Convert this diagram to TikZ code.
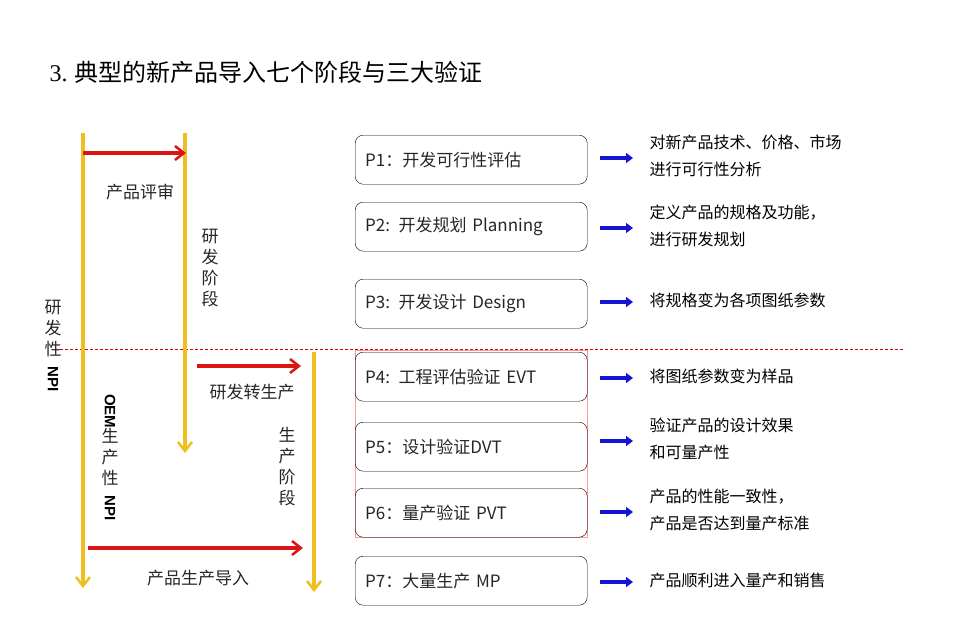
\documentclass[tikz,border=0pt]{standalone}
\usepackage{fontspec}
\setmainfont{Liberation Sans}
\newfontfamily\cjk{Noto Sans CJK SC}
\newfontfamily\tms{Liberation Serif}
\usetikzlibrary{arrows.meta}
\begin{document}
\begin{tikzpicture}[x=1pt,y=-1pt,
  yl/.style={line width=3.5pt,draw={rgb,255:red,240;green,190;blue,30},-{Straight Barb[length=9pt,width=14pt,line width=2.5pt]}},
  rd/.style={line width=3.5pt,draw={rgb,255:red,220;green,20;blue,20},-{Straight Barb[length=9pt,width=14pt,line width=2.5pt]}},
  bl/.style={line width=3.5pt,draw={rgb,255:red,20;green,20;blue,210},-{Triangle[length=7pt,width=10pt]}},
  pbox/.style={draw,rounded corners=8pt,minimum width=232pt,minimum height=49pt,anchor=north west,inner xsep=10pt,inner ysep=0pt,text width=212pt,align=left,font=\cjk\fontsize{17}{20}\selectfont,text=black!85},
  rt/.style={anchor=west,align=left,font=\cjk\fontsize{16}{27}\selectfont},
  lt/.style={font=\cjk\fontsize{17}{20}\selectfont,text=black!85,align=center},
  vt/.style={font=\cjk\fontsize{17}{21}\selectfont,text=black!85,align=center,anchor=north,inner sep=0pt},
  npi/.style={font=\fontsize{15}{18}\selectfont\bfseries,inner sep=0pt,anchor=north}]
\useasboundingbox (0,0) rectangle (960,623);
\node[anchor=west,font=\cjk\fontsize{24}{28}\selectfont] (title) at (46,72) {{\tms 3.} 典型的新产品导入七个阶段与三大验证};
% dashed line
\coordinate (d1) at (60,349); \coordinate (d2) at (905,349);
\draw[red!85!black,dash pattern=on 3pt off 2pt,line width=0.6pt] (d1) -- (d2);
% faint frame
\coordinate (f1) at (355,350); \coordinate (f2) at (587,537);
\draw[red!40,line width=0.4pt] (f1) rectangle (f2);
% yellow lines
\coordinate (y1a) at (83,133); \coordinate (y1b) at (83,588);
\coordinate (y2a) at (185,133); \coordinate (y2b) at (185,453);
\coordinate (y3a) at (314,352); \coordinate (y3b) at (314,592);
\draw[yl] (y1a) -- (y1b);
\draw[yl] (y2a) -- (y2b);
\draw[yl] (y3a) -- (y3b);
% red arrows
\coordinate (r1a) at (83,153); \coordinate (r1b) at (186,153);
\coordinate (r2a) at (197,366); \coordinate (r2b) at (301,366);
\coordinate (r3a) at (88,548); \coordinate (r3b) at (303,548);
\draw[rd] (r1a) -- (r1b);
\draw[rd] (r2a) -- (r2b);
\draw[rd] (r3a) -- (r3b);
% left labels
\node[lt] (l1) at (140,192) {产品评审};
\node[vt] (l2) at (210,229) {研\\发\\阶\\段};
\node[vt] (l3) at (53,300) {研\\发\\性};
\node[npi] (l3b) at (53,366) {\rotatebox{-90}{NPI}};
\node[npi] (l4a) at (110,394) {\rotatebox{-90}{OEM}};
\node[vt] (l4) at (110,428) {生\\产\\性};
\node[npi] (l4b) at (110,495) {\rotatebox{-90}{NPI}};
\node[lt] (l5) at (252,392) {研发转生产};
\node[vt] (l6) at (287,427) {生\\产\\阶\\段};
\node[lt] (l7) at (198,578) {产品生产导入};
% boxes
\node[pbox] (p1) at (355,135) {P1：开发可行性评估};
\node[pbox] (p2) at (355,202) {P2: 开发规划 Planning};
\node[pbox] (p3) at (355,279) {P3: 开发设计 Design};
\node[pbox] (p4) at (355,352) {P4: 工程评估验证 EVT};
\node[pbox] (p5) at (355,422) {P5：设计验证DVT};
\node[pbox] (p6) at (355,488) {P6：量产验证 PVT};
\node[pbox] (p7) at (355,556) {P7：大量生产 MP};
% blue arrows and texts
\foreach \n/\y/\t in {1/158/{对新产品技术、价格、市场\\进行可行性分析},2/228/{定义产品的规格及功能，\\进行研发规划},3/302/{将规格变为各项图纸参数},4/378/{将图纸参数变为样品},5/441/{验证产品的设计效果\\和可量产性},6/512/{产品的性能一致性，\\产品是否达到量产标准},7/582/{产品顺利进入量产和销售}}{
  \coordinate (ba\n) at (600,\y); \coordinate (bb\n) at (633,\y);
  \draw[bl] (ba\n) -- (bb\n);
  \node[rt] (t\n) at (646,\y-2) {\t};
}
\end{tikzpicture}
\end{document}
